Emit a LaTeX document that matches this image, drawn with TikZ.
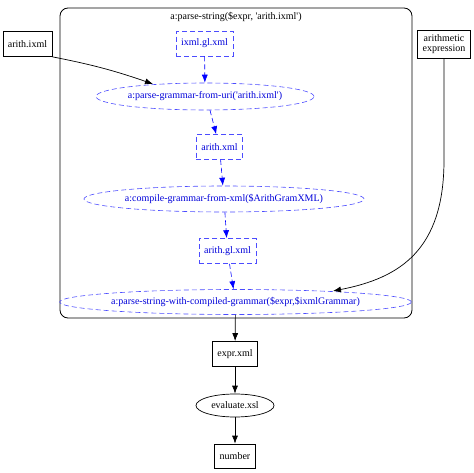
\documentclass[tikz,border=0pt]{standalone}
\usepackage{fontspec}
\setmainfont{Liberation Serif}[Ligatures=TeXOff]
\usepackage{tikz}
\usetikzlibrary{arrows.meta, shapes.geometric}

\begin{document}
\begin{tikzpicture}[x=1pt, y=-1pt, font=\fontsize{10}{12}\selectfont,
        filebox/.style={draw, line width=0.7pt, rectangle, minimum height=25pt, inner xsep=5pt},
        callnode/.style={draw, line width=0.7pt, ellipse, inner sep=0pt},
        inner/.style={draw=blue!70!white, text=blue!85!black, line width=0.6pt, dash pattern=on 5pt off 3pt},
        flow/.style={line width=0.7pt, -{Latex[length=8pt, width=6pt]}}]
        \useasboundingbox (0,0) rectangle (474,473);

        % cluster
        \draw[line width=0.8pt, rounded corners=8pt] (60,8) rectangle (412,318);
        \node (cluster) at (236,17) {a:parse-string(\$expr, 'arith.ixml')};

        \node[filebox] (arithixml) at (27.5,44) {arith.ixml};
        \node[filebox, align=center, inner ysep=2pt, minimum height=28pt] (arithexpr) at (444,44) {arithmetic\\[-2pt]expression};

        \node[filebox, inner] (ixmlgl) at (204.5,43.5) {ixml.gl.xml};
        \node[callnode, inner, minimum width=216pt, minimum height=27pt] (parsegrammar) at (205,96.5) {a:parse-grammar-from-uri('arith.ixml')};
        \node[filebox, inner] (arithxml) at (219.5,147) {arith.xml};
        \node[callnode, inner, minimum width=276pt, minimum height=26pt] (compilegrammar) at (224,199) {a:compile-grammar-from-xml(\$ArithGramXML)};
        \node[filebox, inner] (arithgl) at (227.5,251) {arith.gl.xml};
        \node[callnode, inner, minimum width=341pt, minimum height=25pt] (parsestring) at (235.5,302) {a:parse-string-with-compiled-grammar(\$expr,\$ixmlGrammar)};

        \node[filebox] (exprxml) at (235,354) {expr.xml};
        \node[callnode, minimum width=78pt, minimum height=23pt] (evaluate) at (235,405.5) {evaluate.xsl};
        \node[filebox, minimum height=24pt] (number) at (235,456) {number};

        \coordinate (gramtip) at (153,84);
        \coordinate (strtip) at (333,291);

        \draw[flow, inner, blue] (ixmlgl) -- (parsegrammar);
        \draw[flow, inner, blue] (parsegrammar.south) ++(5,0) -- (arithxml);
        \draw[flow, inner, blue] (arithxml) -- (compilegrammar);
        \draw[flow, inner, blue] (compilegrammar) -- (arithgl);
        \draw[flow, inner, blue] (arithgl) -- (parsestring);

        \draw[flow] (arithixml.south east) to[bend left=4] (gramtip);
        \draw[flow] (arithexpr.south) -- (444,160) .. controls (444,250) and (400,278) .. (strtip);

        \draw[flow] (parsestring) -- (exprxml);
        \draw[flow] (exprxml) -- (evaluate);
        \draw[flow] (evaluate) -- (number);
    \end{tikzpicture}
\end{document}
